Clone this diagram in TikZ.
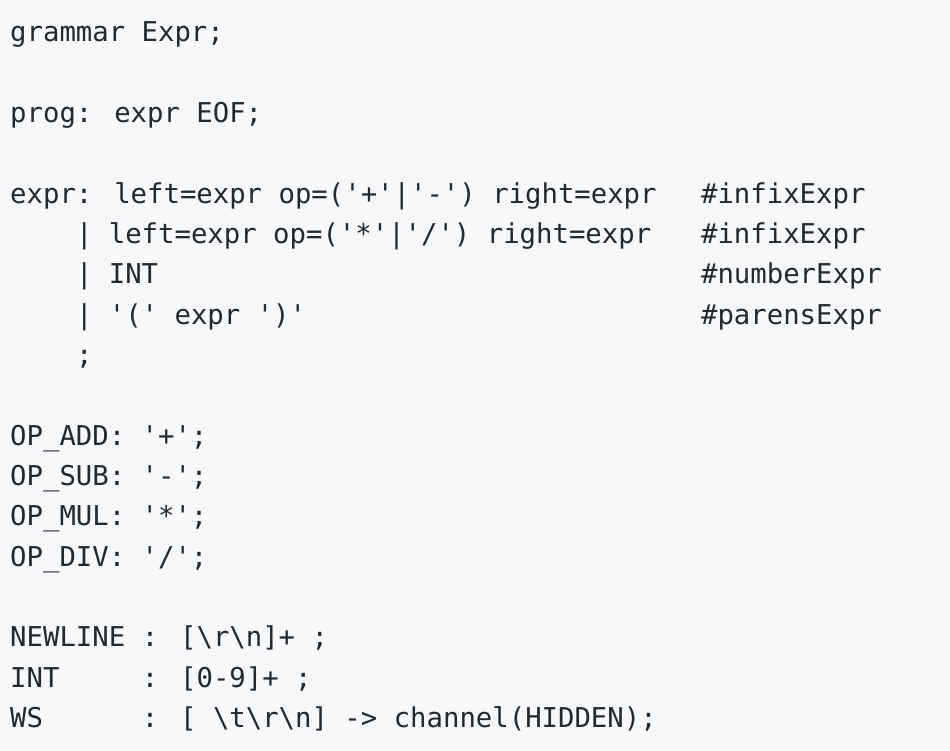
\documentclass[tikz,border=0pt]{standalone}
\usepackage{fontspec}
\newfontfamily\codefont{DejaVu Sans Mono}
\definecolor{bg}{HTML}{F6F8FA}
\definecolor{ink}{HTML}{24292E}
\newcommand{\bs}{\textbackslash}
\begin{document}
\begin{tikzpicture}[x=1pt,y=1pt,
  code/.style={anchor=base west,inner sep=0pt,text=ink,font=\codefont\fontsize{27.3}{30}\selectfont}]
\fill[bg] (0,0) rectangle (950,750);
\useasboundingbox (0,0) rectangle (950,750);
\def\cw{16.45}
\node[code] (l0) at (10,{750-42-40.33*0}) {grammar Expr;};
\node[code] (l2) at (10,{750-42-40.33*2}) {prog: expr EOF;};
\node[code] (l4) at (10,{750-42-40.33*4}) {expr: left=expr op=('+'|'-') right=expr};
\node[code] (c4) at ({10+42*\cw},{750-42-40.33*4}) {\#infixExpr};
\node[code] (l5) at ({10+4*\cw},{750-42-40.33*5}) {| left=expr op=('*'|'/') right=expr};
\node[code] (c5) at ({10+42*\cw},{750-42-40.33*5}) {\#infixExpr};
\node[code] (l6) at ({10+4*\cw},{750-42-40.33*6}) {| INT};
\node[code] (c6) at ({10+42*\cw},{750-42-40.33*6}) {\#numberExpr};
\node[code] (l7) at ({10+4*\cw},{750-42-40.33*7}) {| '(' expr ')'};
\node[code] (c7) at ({10+42*\cw},{750-42-40.33*7}) {\#parensExpr};
\node[code] (l8) at ({10+4*\cw},{750-42-40.33*8}) {;};
\node[code] (l10) at (10,{750-42-40.33*10}) {OP\_ADD: '+';};
\node[code] (l11) at (10,{750-42-40.33*11}) {OP\_SUB: '-';};
\node[code] (l12) at (10,{750-42-40.33*12}) {OP\_MUL: '*';};
\node[code] (l13) at (10,{750-42-40.33*13}) {OP\_DIV: '/';};
\node[code] (l15) at (10,{750-42-40.33*15}) {NEWLINE};
\node[code] (r15) at ({10+8*\cw},{750-42-40.33*15}) {: [\bs r\bs n]+ ;};
\node[code] (l16) at (10,{750-42-40.33*16}) {INT};
\node[code] (r16) at ({10+8*\cw},{750-42-40.33*16}) {: [0-9]+ ;};
\node[code] (l17) at (10,{750-42-40.33*17}) {WS};
\node[code] (r17) at ({10+8*\cw},{750-42-40.33*17}) {: [ \bs t\bs r\bs n] -> channel(HIDDEN);};
\end{tikzpicture}
\end{document}
